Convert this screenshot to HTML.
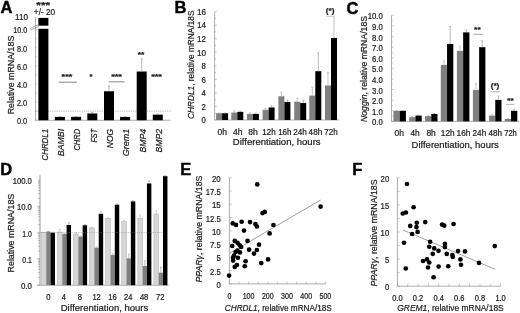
<!DOCTYPE html>
<html lang="en">
<head>
<meta charset="utf-8">
<title>Figure</title>
<style>
html,body{margin:0;padding:0;background:#fff;}
body{width:520px;height:313px;overflow:hidden;}
svg{display:block;font-family:"Liberation Sans",sans-serif;}
svg text{stroke:#222;stroke-width:0.22px;}
</style>
</head>
<body>
<svg width="520" height="313" viewBox="0 0 520 313">
<defs><filter id="soft" x="0" y="0" width="520" height="313" filterUnits="userSpaceOnUse"><feGaussianBlur stdDeviation="0.32"/></filter></defs>
<rect x="0" y="0" width="520" height="313" fill="#ffffff"/>
<g filter="url(#soft)">
<text x="0.60" y="13.45" font-size="16.5" font-weight="bold" fill="#000" style="stroke:#000;stroke-width:0.45px">A</text>
<text x="174.40" y="13.45" font-size="16.5" font-weight="bold" fill="#000" style="stroke:#000;stroke-width:0.45px">B</text>
<text x="346.60" y="13.75" font-size="16.5" font-weight="bold" fill="#000" style="stroke:#000;stroke-width:0.45px">C</text>
<text x="0.20" y="174.65" font-size="16.5" font-weight="bold" fill="#000" style="stroke:#000;stroke-width:0.45px">D</text>
<text x="180.20" y="174.85" font-size="16.5" font-weight="bold" fill="#000" style="stroke:#000;stroke-width:0.45px">E</text>
<text x="352.20" y="174.85" font-size="16.5" font-weight="bold" fill="#000" style="stroke:#000;stroke-width:0.45px">F</text>
<line x1="35.60" y1="17.30" x2="35.60" y2="120.25" stroke="#8c8c8c" stroke-width="0.7" />
<line x1="35.60" y1="120.25" x2="170.60" y2="120.25" stroke="#8c8c8c" stroke-width="0.7" />
<line x1="34.30" y1="120.25" x2="36.90" y2="120.25" stroke="#aaa" stroke-width="0.5" />
<line x1="34.30" y1="111.19" x2="36.90" y2="111.19" stroke="#aaa" stroke-width="0.5" />
<line x1="34.30" y1="102.13" x2="36.90" y2="102.13" stroke="#aaa" stroke-width="0.5" />
<line x1="34.30" y1="93.07" x2="36.90" y2="93.07" stroke="#aaa" stroke-width="0.5" />
<line x1="34.30" y1="84.01" x2="36.90" y2="84.01" stroke="#aaa" stroke-width="0.5" />
<line x1="34.30" y1="74.95" x2="36.90" y2="74.95" stroke="#aaa" stroke-width="0.5" />
<line x1="34.30" y1="65.89" x2="36.90" y2="65.89" stroke="#aaa" stroke-width="0.5" />
<line x1="34.30" y1="56.83" x2="36.90" y2="56.83" stroke="#aaa" stroke-width="0.5" />
<line x1="34.30" y1="47.77" x2="36.90" y2="47.77" stroke="#aaa" stroke-width="0.5" />
<line x1="34.30" y1="38.71" x2="36.90" y2="38.71" stroke="#aaa" stroke-width="0.5" />
<line x1="34.30" y1="29.65" x2="36.90" y2="29.65" stroke="#aaa" stroke-width="0.5" />
<line x1="34.30" y1="17.30" x2="36.90" y2="17.30" stroke="#aaa" stroke-width="0.5" />
<line x1="35.60" y1="111.09" x2="171.30" y2="111.09" stroke="#777" stroke-width="0.6" stroke-dasharray="0.9,0.9"/>
<text x="27.20" y="124.00" font-size="8.2" text-anchor="end" textLength="10.2" lengthAdjust="spacingAndGlyphs" fill="#1a1a1a">0.0</text>
<text x="27.20" y="105.88" font-size="8.2" text-anchor="end" textLength="10.2" lengthAdjust="spacingAndGlyphs" fill="#1a1a1a">2.0</text>
<text x="27.20" y="87.76" font-size="8.2" text-anchor="end" textLength="10.2" lengthAdjust="spacingAndGlyphs" fill="#1a1a1a">4.0</text>
<text x="27.20" y="69.64" font-size="8.2" text-anchor="end" textLength="10.2" lengthAdjust="spacingAndGlyphs" fill="#1a1a1a">6.0</text>
<text x="27.20" y="51.52" font-size="8.2" text-anchor="end" textLength="10.2" lengthAdjust="spacingAndGlyphs" fill="#1a1a1a">8.0</text>
<text x="27.20" y="33.40" font-size="8.2" text-anchor="end" textLength="13.9" lengthAdjust="spacingAndGlyphs" fill="#1a1a1a">10.0</text>
<text x="28.00" y="19.90" font-size="8.2" text-anchor="end" textLength="12.9" lengthAdjust="spacingAndGlyphs" fill="#1a1a1a">110</text>
<rect x="38.40" y="17.90" width="10.00" height="7.80" fill="#000" />
<rect x="38.40" y="28.80" width="10.00" height="91.45" fill="#000" />
<line x1="30.00" y1="28.60" x2="39.20" y2="24.30" stroke="#777" stroke-width="0.6" />
<line x1="30.00" y1="30.30" x2="39.20" y2="26.00" stroke="#777" stroke-width="0.6" />
<rect x="54.90" y="116.90" width="10.00" height="3.35" fill="#000" />
<line x1="59.90" y1="116.90" x2="59.90" y2="116.63" stroke="#8a8a8a" stroke-width="0.6" />
<line x1="58.90" y1="116.63" x2="60.90" y2="116.63" stroke="#8a8a8a" stroke-width="0.6" />
<rect x="71.10" y="116.81" width="10.00" height="3.44" fill="#000" />
<line x1="76.10" y1="116.81" x2="76.10" y2="116.54" stroke="#8a8a8a" stroke-width="0.6" />
<line x1="75.10" y1="116.54" x2="77.10" y2="116.54" stroke="#8a8a8a" stroke-width="0.6" />
<rect x="87.30" y="113.45" width="10.00" height="6.80" fill="#000" />
<line x1="92.30" y1="113.45" x2="92.30" y2="112.37" stroke="#8a8a8a" stroke-width="0.6" />
<line x1="91.30" y1="112.37" x2="93.30" y2="112.37" stroke="#8a8a8a" stroke-width="0.6" />
<rect x="104.00" y="91.26" width="10.00" height="28.99" fill="#000" />
<line x1="109.00" y1="91.26" x2="109.00" y2="85.82" stroke="#8a8a8a" stroke-width="0.6" />
<line x1="108.00" y1="85.82" x2="110.00" y2="85.82" stroke="#8a8a8a" stroke-width="0.6" />
<rect x="120.10" y="116.90" width="10.00" height="3.35" fill="#000" />
<line x1="125.10" y1="116.90" x2="125.10" y2="116.63" stroke="#8a8a8a" stroke-width="0.6" />
<line x1="124.10" y1="116.63" x2="126.10" y2="116.63" stroke="#8a8a8a" stroke-width="0.6" />
<rect x="136.70" y="71.51" width="10.00" height="48.74" fill="#000" />
<line x1="141.70" y1="71.51" x2="141.70" y2="58.82" stroke="#8a8a8a" stroke-width="0.6" />
<line x1="140.70" y1="58.82" x2="142.70" y2="58.82" stroke="#8a8a8a" stroke-width="0.6" />
<rect x="152.80" y="114.63" width="10.00" height="5.62" fill="#000" />
<line x1="157.80" y1="114.63" x2="157.80" y2="113.91" stroke="#8a8a8a" stroke-width="0.6" />
<line x1="156.80" y1="113.91" x2="158.80" y2="113.91" stroke="#8a8a8a" stroke-width="0.6" />
<text transform="translate(47.90,128.90) rotate(-90)" font-size="9.4" text-anchor="end" textLength="31.6" lengthAdjust="spacingAndGlyphs" font-style="italic" fill="#1a1a1a">CHRDL1</text>
<text transform="translate(63.50,128.90) rotate(-90)" font-size="9.4" text-anchor="end" textLength="27.3" lengthAdjust="spacingAndGlyphs" font-style="italic" fill="#1a1a1a">BAMBI</text>
<text transform="translate(79.90,128.90) rotate(-90)" font-size="9.4" text-anchor="end" textLength="21.7" lengthAdjust="spacingAndGlyphs" font-style="italic" fill="#1a1a1a">CHRD</text>
<text transform="translate(96.50,128.90) rotate(-90)" font-size="9.4" text-anchor="end" textLength="13.7" lengthAdjust="spacingAndGlyphs" font-style="italic" fill="#1a1a1a">FST</text>
<text transform="translate(112.70,128.90) rotate(-90)" font-size="9.4" text-anchor="end" textLength="19.3" lengthAdjust="spacingAndGlyphs" font-style="italic" fill="#1a1a1a">NOG</text>
<text transform="translate(129.30,128.90) rotate(-90)" font-size="9.4" text-anchor="end" textLength="27.3" lengthAdjust="spacingAndGlyphs" font-style="italic" fill="#1a1a1a">Grem1</text>
<text transform="translate(145.90,128.90) rotate(-90)" font-size="9.4" text-anchor="end" textLength="23.6" lengthAdjust="spacingAndGlyphs" font-style="italic" fill="#1a1a1a">BMP4</text>
<text transform="translate(162.10,128.90) rotate(-90)" font-size="9.4" text-anchor="end" textLength="23.6" lengthAdjust="spacingAndGlyphs" font-style="italic" fill="#1a1a1a">BMP2</text>
<text transform="translate(13.50,114.30) rotate(-90)" font-size="9.5" textLength="78.6" lengthAdjust="spacingAndGlyphs" fill="#1a1a1a">Relative mRNA/18S</text>
<text x="43.20" y="8.36" font-size="8.6" text-anchor="middle" textLength="13.8" lengthAdjust="spacingAndGlyphs" font-weight="bold" fill="#111">***</text>
<text x="44.50" y="15.00" font-size="8.8" text-anchor="middle" textLength="21.4" lengthAdjust="spacingAndGlyphs" fill="#1a1a1a">+/- 20</text>
<text x="67.00" y="79.22" font-size="7.4" text-anchor="middle" textLength="10.8" lengthAdjust="spacingAndGlyphs" font-weight="bold" fill="#111">***</text>
<line x1="58.70" y1="82.20" x2="77.00" y2="82.20" stroke="#555" stroke-width="0.7" />
<text x="91.00" y="79.22" font-size="7.4" text-anchor="middle" font-weight="bold" fill="#111">*</text>
<text x="116.60" y="79.22" font-size="7.4" text-anchor="middle" textLength="10.8" lengthAdjust="spacingAndGlyphs" font-weight="bold" fill="#111">***</text>
<line x1="108.80" y1="81.80" x2="124.60" y2="81.80" stroke="#555" stroke-width="0.7" />
<text x="141.10" y="56.92" font-size="7.4" text-anchor="middle" textLength="6.6" lengthAdjust="spacingAndGlyphs" font-weight="bold" fill="#111">**</text>
<text x="156.60" y="79.22" font-size="7.4" text-anchor="middle" textLength="10.8" lengthAdjust="spacingAndGlyphs" font-weight="bold" fill="#111">***</text>
<line x1="214.60" y1="12.20" x2="214.60" y2="120.00" stroke="#8c8c8c" stroke-width="0.7" />
<line x1="214.60" y1="120.00" x2="339.20" y2="120.00" stroke="#8c8c8c" stroke-width="0.7" />
<line x1="214.60" y1="120.00" x2="216.80" y2="120.00" stroke="#8c8c8c" stroke-width="0.5" />
<line x1="214.60" y1="113.22" x2="216.00" y2="113.22" stroke="#8c8c8c" stroke-width="0.5" />
<line x1="214.60" y1="106.44" x2="216.80" y2="106.44" stroke="#8c8c8c" stroke-width="0.5" />
<line x1="214.60" y1="99.66" x2="216.00" y2="99.66" stroke="#8c8c8c" stroke-width="0.5" />
<line x1="214.60" y1="92.88" x2="216.80" y2="92.88" stroke="#8c8c8c" stroke-width="0.5" />
<line x1="214.60" y1="86.10" x2="216.00" y2="86.10" stroke="#8c8c8c" stroke-width="0.5" />
<line x1="214.60" y1="79.32" x2="216.80" y2="79.32" stroke="#8c8c8c" stroke-width="0.5" />
<line x1="214.60" y1="72.54" x2="216.00" y2="72.54" stroke="#8c8c8c" stroke-width="0.5" />
<line x1="214.60" y1="65.76" x2="216.80" y2="65.76" stroke="#8c8c8c" stroke-width="0.5" />
<line x1="214.60" y1="58.98" x2="216.00" y2="58.98" stroke="#8c8c8c" stroke-width="0.5" />
<line x1="214.60" y1="52.20" x2="216.80" y2="52.20" stroke="#8c8c8c" stroke-width="0.5" />
<line x1="214.60" y1="45.42" x2="216.00" y2="45.42" stroke="#8c8c8c" stroke-width="0.5" />
<line x1="214.60" y1="38.64" x2="216.80" y2="38.64" stroke="#8c8c8c" stroke-width="0.5" />
<line x1="214.60" y1="31.86" x2="216.00" y2="31.86" stroke="#8c8c8c" stroke-width="0.5" />
<line x1="214.60" y1="25.08" x2="216.80" y2="25.08" stroke="#8c8c8c" stroke-width="0.5" />
<line x1="214.60" y1="18.30" x2="216.00" y2="18.30" stroke="#8c8c8c" stroke-width="0.5" />
<line x1="214.60" y1="11.52" x2="216.80" y2="11.52" stroke="#8c8c8c" stroke-width="0.5" />
<text x="205.90" y="123.30" font-size="8.3" text-anchor="end" textLength="4.3" lengthAdjust="spacingAndGlyphs" fill="#1a1a1a">0</text>
<text x="205.90" y="109.74" font-size="8.3" text-anchor="end" textLength="4.3" lengthAdjust="spacingAndGlyphs" fill="#1a1a1a">2</text>
<text x="205.90" y="96.18" font-size="8.3" text-anchor="end" textLength="4.3" lengthAdjust="spacingAndGlyphs" fill="#1a1a1a">4</text>
<text x="205.90" y="82.62" font-size="8.3" text-anchor="end" textLength="4.3" lengthAdjust="spacingAndGlyphs" fill="#1a1a1a">6</text>
<text x="205.90" y="69.06" font-size="8.3" text-anchor="end" textLength="4.3" lengthAdjust="spacingAndGlyphs" fill="#1a1a1a">8</text>
<text x="205.90" y="55.50" font-size="8.3" text-anchor="end" textLength="9.0" lengthAdjust="spacingAndGlyphs" fill="#1a1a1a">10</text>
<text x="205.90" y="41.94" font-size="8.3" text-anchor="end" textLength="9.0" lengthAdjust="spacingAndGlyphs" fill="#1a1a1a">12</text>
<text x="205.90" y="28.38" font-size="8.3" text-anchor="end" textLength="9.0" lengthAdjust="spacingAndGlyphs" fill="#1a1a1a">14</text>
<text x="205.90" y="14.82" font-size="8.3" text-anchor="end" textLength="9.0" lengthAdjust="spacingAndGlyphs" fill="#1a1a1a">16</text>
<rect x="216.10" y="113.22" width="6.00" height="6.78" fill="#7f7f7f" />
<line x1="219.10" y1="113.22" x2="219.10" y2="113.02" stroke="#a0a0a0" stroke-width="0.6" />
<line x1="218.20" y1="113.02" x2="220.00" y2="113.02" stroke="#a0a0a0" stroke-width="0.6" />
<rect x="222.10" y="113.22" width="6.00" height="6.78" fill="#000" />
<line x1="225.10" y1="113.22" x2="225.10" y2="113.02" stroke="#8a8a8a" stroke-width="0.6" />
<line x1="224.20" y1="113.02" x2="226.00" y2="113.02" stroke="#8a8a8a" stroke-width="0.6" />
<rect x="231.30" y="112.54" width="6.00" height="7.46" fill="#7f7f7f" />
<line x1="234.30" y1="112.54" x2="234.30" y2="110.85" stroke="#a0a0a0" stroke-width="0.6" />
<line x1="233.40" y1="110.85" x2="235.20" y2="110.85" stroke="#a0a0a0" stroke-width="0.6" />
<rect x="237.30" y="111.86" width="6.00" height="8.14" fill="#000" />
<line x1="240.30" y1="111.86" x2="240.30" y2="111.05" stroke="#8a8a8a" stroke-width="0.6" />
<line x1="239.40" y1="111.05" x2="241.20" y2="111.05" stroke="#8a8a8a" stroke-width="0.6" />
<rect x="246.90" y="113.90" width="6.00" height="6.10" fill="#7f7f7f" />
<line x1="249.90" y1="113.90" x2="249.90" y2="112.88" stroke="#a0a0a0" stroke-width="0.6" />
<line x1="249.00" y1="112.88" x2="250.80" y2="112.88" stroke="#a0a0a0" stroke-width="0.6" />
<rect x="252.90" y="113.90" width="6.00" height="6.10" fill="#000" />
<line x1="255.90" y1="113.90" x2="255.90" y2="113.22" stroke="#8a8a8a" stroke-width="0.6" />
<line x1="255.00" y1="113.22" x2="256.80" y2="113.22" stroke="#8a8a8a" stroke-width="0.6" />
<rect x="262.60" y="109.83" width="6.00" height="10.17" fill="#7f7f7f" />
<line x1="265.60" y1="109.83" x2="265.60" y2="108.47" stroke="#a0a0a0" stroke-width="0.6" />
<line x1="264.70" y1="108.47" x2="266.50" y2="108.47" stroke="#a0a0a0" stroke-width="0.6" />
<rect x="268.60" y="107.46" width="6.00" height="12.54" fill="#000" />
<line x1="271.60" y1="107.46" x2="271.60" y2="106.10" stroke="#8a8a8a" stroke-width="0.6" />
<line x1="270.70" y1="106.10" x2="272.50" y2="106.10" stroke="#8a8a8a" stroke-width="0.6" />
<rect x="278.40" y="96.27" width="6.00" height="23.73" fill="#7f7f7f" />
<line x1="281.40" y1="96.27" x2="281.40" y2="92.20" stroke="#a0a0a0" stroke-width="0.6" />
<line x1="280.50" y1="92.20" x2="282.30" y2="92.20" stroke="#a0a0a0" stroke-width="0.6" />
<rect x="284.40" y="102.03" width="6.00" height="17.97" fill="#000" />
<line x1="287.40" y1="102.03" x2="287.40" y2="100.00" stroke="#8a8a8a" stroke-width="0.6" />
<line x1="286.50" y1="100.00" x2="288.30" y2="100.00" stroke="#8a8a8a" stroke-width="0.6" />
<rect x="294.20" y="101.69" width="6.00" height="18.31" fill="#7f7f7f" />
<line x1="297.20" y1="101.69" x2="297.20" y2="98.30" stroke="#a0a0a0" stroke-width="0.6" />
<line x1="296.30" y1="98.30" x2="298.10" y2="98.30" stroke="#a0a0a0" stroke-width="0.6" />
<rect x="300.20" y="103.05" width="6.00" height="16.95" fill="#000" />
<line x1="303.20" y1="103.05" x2="303.20" y2="100.68" stroke="#8a8a8a" stroke-width="0.6" />
<line x1="302.30" y1="100.68" x2="304.10" y2="100.68" stroke="#8a8a8a" stroke-width="0.6" />
<rect x="309.30" y="95.59" width="6.00" height="24.41" fill="#7f7f7f" />
<line x1="312.30" y1="95.59" x2="312.30" y2="87.12" stroke="#a0a0a0" stroke-width="0.6" />
<line x1="311.40" y1="87.12" x2="313.20" y2="87.12" stroke="#a0a0a0" stroke-width="0.6" />
<rect x="315.30" y="71.18" width="6.00" height="48.82" fill="#000" />
<line x1="318.30" y1="71.18" x2="318.30" y2="52.88" stroke="#8a8a8a" stroke-width="0.6" />
<line x1="317.40" y1="52.88" x2="319.20" y2="52.88" stroke="#8a8a8a" stroke-width="0.6" />
<rect x="325.00" y="85.42" width="6.00" height="34.58" fill="#7f7f7f" />
<line x1="328.00" y1="85.42" x2="328.00" y2="72.54" stroke="#a0a0a0" stroke-width="0.6" />
<line x1="327.10" y1="72.54" x2="328.90" y2="72.54" stroke="#a0a0a0" stroke-width="0.6" />
<rect x="331.00" y="37.96" width="6.00" height="82.04" fill="#000" />
<line x1="334.00" y1="38.00" x2="334.00" y2="16.20" stroke="#999" stroke-width="0.6" />
<line x1="326.30" y1="16.20" x2="334.60" y2="16.20" stroke="#999" stroke-width="0.6" />
<text x="330.10" y="13.30" font-size="7.3" text-anchor="middle" textLength="8.6" lengthAdjust="spacingAndGlyphs" font-weight="bold" fill="#1a1a1a">(*)</text>
<text x="222.15" y="135.20" font-size="8.3" text-anchor="middle" textLength="9.5" lengthAdjust="spacingAndGlyphs" fill="#1a1a1a">0h</text>
<text x="237.65" y="135.20" font-size="8.3" text-anchor="middle" textLength="9.5" lengthAdjust="spacingAndGlyphs" fill="#1a1a1a">4h</text>
<text x="253.05" y="135.20" font-size="8.3" text-anchor="middle" textLength="9.5" lengthAdjust="spacingAndGlyphs" fill="#1a1a1a">8h</text>
<text x="268.95" y="135.20" font-size="8.3" text-anchor="middle" textLength="13.5" lengthAdjust="spacingAndGlyphs" fill="#1a1a1a">12h</text>
<text x="284.85" y="135.20" font-size="8.3" text-anchor="middle" textLength="13.3" lengthAdjust="spacingAndGlyphs" fill="#1a1a1a">16h</text>
<text x="300.10" y="135.20" font-size="8.3" text-anchor="middle" textLength="13.6" lengthAdjust="spacingAndGlyphs" fill="#1a1a1a">24h</text>
<text x="315.40" y="135.20" font-size="8.3" text-anchor="middle" textLength="13.6" lengthAdjust="spacingAndGlyphs" fill="#1a1a1a">48h</text>
<text x="331.00" y="135.20" font-size="8.3" text-anchor="middle" textLength="13.4" lengthAdjust="spacingAndGlyphs" fill="#1a1a1a">72h</text>
<text x="232.80" y="144.50" font-size="9.5" textLength="87.8" lengthAdjust="spacingAndGlyphs" fill="#1a1a1a">Differentiation, hours</text>
<text transform="translate(194.3,119.0) rotate(-90)" font-size="9.5" textLength="108.5" lengthAdjust="spacingAndGlyphs" fill="#1a1a1a"><tspan font-style="italic">CHRDL1</tspan>, relative mRNA/18S</text>
<line x1="391.50" y1="15.40" x2="391.50" y2="121.40" stroke="#8c8c8c" stroke-width="0.7" />
<line x1="391.50" y1="121.40" x2="519.00" y2="121.40" stroke="#8c8c8c" stroke-width="0.7" />
<line x1="391.50" y1="121.40" x2="393.70" y2="121.40" stroke="#8c8c8c" stroke-width="0.5" />
<line x1="391.50" y1="116.10" x2="392.90" y2="116.10" stroke="#8c8c8c" stroke-width="0.5" />
<line x1="391.50" y1="110.80" x2="393.70" y2="110.80" stroke="#8c8c8c" stroke-width="0.5" />
<line x1="391.50" y1="105.50" x2="392.90" y2="105.50" stroke="#8c8c8c" stroke-width="0.5" />
<line x1="391.50" y1="100.20" x2="393.70" y2="100.20" stroke="#8c8c8c" stroke-width="0.5" />
<line x1="391.50" y1="94.90" x2="392.90" y2="94.90" stroke="#8c8c8c" stroke-width="0.5" />
<line x1="391.50" y1="89.60" x2="393.70" y2="89.60" stroke="#8c8c8c" stroke-width="0.5" />
<line x1="391.50" y1="84.30" x2="392.90" y2="84.30" stroke="#8c8c8c" stroke-width="0.5" />
<line x1="391.50" y1="79.00" x2="393.70" y2="79.00" stroke="#8c8c8c" stroke-width="0.5" />
<line x1="391.50" y1="73.70" x2="392.90" y2="73.70" stroke="#8c8c8c" stroke-width="0.5" />
<line x1="391.50" y1="68.40" x2="393.70" y2="68.40" stroke="#8c8c8c" stroke-width="0.5" />
<line x1="391.50" y1="63.10" x2="392.90" y2="63.10" stroke="#8c8c8c" stroke-width="0.5" />
<line x1="391.50" y1="57.80" x2="393.70" y2="57.80" stroke="#8c8c8c" stroke-width="0.5" />
<line x1="391.50" y1="52.50" x2="392.90" y2="52.50" stroke="#8c8c8c" stroke-width="0.5" />
<line x1="391.50" y1="47.20" x2="393.70" y2="47.20" stroke="#8c8c8c" stroke-width="0.5" />
<line x1="391.50" y1="41.90" x2="392.90" y2="41.90" stroke="#8c8c8c" stroke-width="0.5" />
<line x1="391.50" y1="36.60" x2="393.70" y2="36.60" stroke="#8c8c8c" stroke-width="0.5" />
<line x1="391.50" y1="31.30" x2="392.90" y2="31.30" stroke="#8c8c8c" stroke-width="0.5" />
<line x1="391.50" y1="26.00" x2="393.70" y2="26.00" stroke="#8c8c8c" stroke-width="0.5" />
<line x1="391.50" y1="20.70" x2="392.90" y2="20.70" stroke="#8c8c8c" stroke-width="0.5" />
<line x1="391.50" y1="15.40" x2="393.70" y2="15.40" stroke="#8c8c8c" stroke-width="0.5" />
<text x="382.80" y="125.40" font-size="8.3" text-anchor="end" textLength="10.8" lengthAdjust="spacingAndGlyphs" fill="#1a1a1a">0.0</text>
<text x="382.80" y="114.80" font-size="8.3" text-anchor="end" textLength="10.8" lengthAdjust="spacingAndGlyphs" fill="#1a1a1a">1.0</text>
<text x="382.80" y="104.20" font-size="8.3" text-anchor="end" textLength="10.8" lengthAdjust="spacingAndGlyphs" fill="#1a1a1a">2.0</text>
<text x="382.80" y="93.60" font-size="8.3" text-anchor="end" textLength="10.8" lengthAdjust="spacingAndGlyphs" fill="#1a1a1a">3.0</text>
<text x="382.80" y="83.00" font-size="8.3" text-anchor="end" textLength="10.8" lengthAdjust="spacingAndGlyphs" fill="#1a1a1a">4.0</text>
<text x="382.80" y="72.40" font-size="8.3" text-anchor="end" textLength="10.8" lengthAdjust="spacingAndGlyphs" fill="#1a1a1a">5.0</text>
<text x="382.80" y="61.80" font-size="8.3" text-anchor="end" textLength="10.8" lengthAdjust="spacingAndGlyphs" fill="#1a1a1a">6.0</text>
<text x="382.80" y="51.20" font-size="8.3" text-anchor="end" textLength="10.8" lengthAdjust="spacingAndGlyphs" fill="#1a1a1a">7.0</text>
<text x="382.80" y="40.60" font-size="8.3" text-anchor="end" textLength="10.8" lengthAdjust="spacingAndGlyphs" fill="#1a1a1a">8.0</text>
<text x="382.80" y="30.00" font-size="8.3" text-anchor="end" textLength="10.8" lengthAdjust="spacingAndGlyphs" fill="#1a1a1a">9.0</text>
<text x="382.80" y="19.40" font-size="8.3" text-anchor="end" textLength="15.0" lengthAdjust="spacingAndGlyphs" fill="#1a1a1a">10.0</text>
<rect x="393.40" y="110.80" width="6.25" height="10.60" fill="#7f7f7f" />
<line x1="396.52" y1="110.80" x2="396.52" y2="110.48" stroke="#a0a0a0" stroke-width="0.6" />
<line x1="395.62" y1="110.48" x2="397.42" y2="110.48" stroke="#a0a0a0" stroke-width="0.6" />
<rect x="399.65" y="110.80" width="6.25" height="10.60" fill="#000" />
<line x1="402.77" y1="110.80" x2="402.77" y2="110.48" stroke="#8a8a8a" stroke-width="0.6" />
<line x1="401.88" y1="110.48" x2="403.67" y2="110.48" stroke="#8a8a8a" stroke-width="0.6" />
<rect x="409.20" y="117.16" width="6.25" height="4.24" fill="#7f7f7f" />
<line x1="412.32" y1="117.16" x2="412.32" y2="116.63" stroke="#a0a0a0" stroke-width="0.6" />
<line x1="411.43" y1="116.63" x2="413.22" y2="116.63" stroke="#a0a0a0" stroke-width="0.6" />
<rect x="415.45" y="115.57" width="6.25" height="5.83" fill="#000" />
<line x1="418.57" y1="115.57" x2="418.57" y2="115.04" stroke="#8a8a8a" stroke-width="0.6" />
<line x1="417.68" y1="115.04" x2="419.47" y2="115.04" stroke="#8a8a8a" stroke-width="0.6" />
<rect x="425.00" y="116.10" width="6.25" height="5.30" fill="#7f7f7f" />
<line x1="428.12" y1="116.10" x2="428.12" y2="115.57" stroke="#a0a0a0" stroke-width="0.6" />
<line x1="427.23" y1="115.57" x2="429.02" y2="115.57" stroke="#a0a0a0" stroke-width="0.6" />
<rect x="431.25" y="113.98" width="6.25" height="7.42" fill="#000" />
<line x1="434.38" y1="113.98" x2="434.38" y2="113.45" stroke="#8a8a8a" stroke-width="0.6" />
<line x1="433.48" y1="113.45" x2="435.27" y2="113.45" stroke="#8a8a8a" stroke-width="0.6" />
<rect x="440.80" y="64.90" width="6.25" height="56.50" fill="#7f7f7f" />
<line x1="443.93" y1="64.90" x2="443.93" y2="60.87" stroke="#a0a0a0" stroke-width="0.6" />
<line x1="443.03" y1="60.87" x2="444.82" y2="60.87" stroke="#a0a0a0" stroke-width="0.6" />
<rect x="447.05" y="44.02" width="6.25" height="77.38" fill="#000" />
<line x1="450.18" y1="44.02" x2="450.18" y2="26.53" stroke="#8a8a8a" stroke-width="0.6" />
<line x1="449.28" y1="26.53" x2="451.07" y2="26.53" stroke="#8a8a8a" stroke-width="0.6" />
<rect x="456.90" y="50.91" width="6.25" height="70.49" fill="#7f7f7f" />
<line x1="460.02" y1="50.91" x2="460.02" y2="46.14" stroke="#a0a0a0" stroke-width="0.6" />
<line x1="459.12" y1="46.14" x2="460.92" y2="46.14" stroke="#a0a0a0" stroke-width="0.6" />
<rect x="463.15" y="32.36" width="6.25" height="89.04" fill="#000" />
<line x1="466.27" y1="32.36" x2="466.27" y2="30.03" stroke="#8a8a8a" stroke-width="0.6" />
<line x1="465.38" y1="30.03" x2="467.17" y2="30.03" stroke="#8a8a8a" stroke-width="0.6" />
<rect x="472.90" y="89.92" width="6.25" height="31.48" fill="#7f7f7f" />
<line x1="476.02" y1="89.92" x2="476.02" y2="83.56" stroke="#a0a0a0" stroke-width="0.6" />
<line x1="475.12" y1="83.56" x2="476.92" y2="83.56" stroke="#a0a0a0" stroke-width="0.6" />
<rect x="479.15" y="47.20" width="6.25" height="74.20" fill="#000" />
<line x1="482.27" y1="47.20" x2="482.27" y2="40.84" stroke="#8a8a8a" stroke-width="0.6" />
<line x1="481.38" y1="40.84" x2="483.17" y2="40.84" stroke="#8a8a8a" stroke-width="0.6" />
<rect x="489.00" y="115.57" width="6.25" height="5.83" fill="#7f7f7f" />
<line x1="492.12" y1="115.57" x2="492.12" y2="114.72" stroke="#a0a0a0" stroke-width="0.6" />
<line x1="491.23" y1="114.72" x2="493.02" y2="114.72" stroke="#a0a0a0" stroke-width="0.6" />
<rect x="495.25" y="99.88" width="6.25" height="21.52" fill="#000" />
<line x1="498.38" y1="99.88" x2="498.38" y2="96.07" stroke="#8a8a8a" stroke-width="0.6" />
<line x1="497.48" y1="96.07" x2="499.27" y2="96.07" stroke="#8a8a8a" stroke-width="0.6" />
<rect x="504.80" y="118.96" width="6.25" height="2.44" fill="#7f7f7f" />
<line x1="507.93" y1="118.96" x2="507.93" y2="118.43" stroke="#a0a0a0" stroke-width="0.6" />
<line x1="507.03" y1="118.43" x2="508.82" y2="118.43" stroke="#a0a0a0" stroke-width="0.6" />
<rect x="511.05" y="110.80" width="6.25" height="10.60" fill="#000" />
<line x1="514.17" y1="110.80" x2="514.17" y2="109.21" stroke="#8a8a8a" stroke-width="0.6" />
<line x1="513.27" y1="109.21" x2="515.07" y2="109.21" stroke="#8a8a8a" stroke-width="0.6" />
<text x="477.40" y="31.92" font-size="7.4" text-anchor="middle" textLength="6.6" lengthAdjust="spacingAndGlyphs" font-weight="bold" fill="#111">**</text>
<line x1="473.50" y1="34.30" x2="483.00" y2="34.30" stroke="#666" stroke-width="0.6" />
<text x="495.00" y="87.50" font-size="7.3" text-anchor="middle" textLength="8.6" lengthAdjust="spacingAndGlyphs" font-weight="bold" fill="#1a1a1a">(*)</text>
<line x1="490.60" y1="91.80" x2="499.80" y2="91.80" stroke="#777" stroke-width="0.6" />
<text x="510.40" y="103.22" font-size="7.4" text-anchor="middle" textLength="6.4" lengthAdjust="spacingAndGlyphs" font-weight="bold" fill="#111">**</text>
<line x1="506.30" y1="104.30" x2="514.50" y2="104.30" stroke="#777" stroke-width="0.6" />
<text x="399.15" y="136.40" font-size="8.3" text-anchor="middle" textLength="9.5" lengthAdjust="spacingAndGlyphs" fill="#1a1a1a">0h</text>
<text x="415.00" y="136.40" font-size="8.3" text-anchor="middle" textLength="9.2" lengthAdjust="spacingAndGlyphs" fill="#1a1a1a">4h</text>
<text x="431.05" y="136.40" font-size="8.3" text-anchor="middle" textLength="9.3" lengthAdjust="spacingAndGlyphs" fill="#1a1a1a">8h</text>
<text x="447.70" y="136.40" font-size="8.3" text-anchor="middle" textLength="13.8" lengthAdjust="spacingAndGlyphs" fill="#1a1a1a">12h</text>
<text x="463.45" y="136.40" font-size="8.3" text-anchor="middle" textLength="13.9" lengthAdjust="spacingAndGlyphs" fill="#1a1a1a">16h</text>
<text x="479.35" y="136.40" font-size="8.3" text-anchor="middle" textLength="13.7" lengthAdjust="spacingAndGlyphs" fill="#1a1a1a">24h</text>
<text x="495.25" y="136.40" font-size="8.3" text-anchor="middle" textLength="13.7" lengthAdjust="spacingAndGlyphs" fill="#1a1a1a">48h</text>
<text x="510.50" y="136.40" font-size="8.3" text-anchor="middle" textLength="12.6" lengthAdjust="spacingAndGlyphs" fill="#1a1a1a">72h</text>
<text x="411.60" y="148.10" font-size="9.5" textLength="87.2" lengthAdjust="spacingAndGlyphs" fill="#1a1a1a">Differentiation, hours</text>
<text transform="translate(366.6,122.0) rotate(-90)" font-size="9.5" textLength="106.0" lengthAdjust="spacingAndGlyphs" fill="#1a1a1a"><tspan font-style="italic">Noggin</tspan>, relative mRNA/18S</text>
<line x1="40.00" y1="175.20" x2="40.00" y2="285.20" stroke="#8c8c8c" stroke-width="0.9" />
<line x1="37.50" y1="285.20" x2="168.50" y2="285.20" stroke="#8c8c8c" stroke-width="0.7" />
<line x1="37.20" y1="285.20" x2="40.00" y2="285.20" stroke="#8c8c8c" stroke-width="0.6" />
<line x1="38.00" y1="277.28" x2="40.00" y2="277.28" stroke="#8c8c8c" stroke-width="0.6" />
<line x1="38.00" y1="272.65" x2="40.00" y2="272.65" stroke="#8c8c8c" stroke-width="0.6" />
<line x1="38.00" y1="269.37" x2="40.00" y2="269.37" stroke="#8c8c8c" stroke-width="0.6" />
<line x1="38.00" y1="266.82" x2="40.00" y2="266.82" stroke="#8c8c8c" stroke-width="0.6" />
<line x1="38.00" y1="264.73" x2="40.00" y2="264.73" stroke="#8c8c8c" stroke-width="0.6" />
<line x1="38.00" y1="262.97" x2="40.00" y2="262.97" stroke="#8c8c8c" stroke-width="0.6" />
<line x1="38.00" y1="261.45" x2="40.00" y2="261.45" stroke="#8c8c8c" stroke-width="0.6" />
<line x1="38.00" y1="260.10" x2="40.00" y2="260.10" stroke="#8c8c8c" stroke-width="0.6" />
<line x1="37.20" y1="258.90" x2="40.00" y2="258.90" stroke="#8c8c8c" stroke-width="0.6" />
<line x1="38.00" y1="250.98" x2="40.00" y2="250.98" stroke="#8c8c8c" stroke-width="0.6" />
<line x1="38.00" y1="246.35" x2="40.00" y2="246.35" stroke="#8c8c8c" stroke-width="0.6" />
<line x1="38.00" y1="243.07" x2="40.00" y2="243.07" stroke="#8c8c8c" stroke-width="0.6" />
<line x1="38.00" y1="240.52" x2="40.00" y2="240.52" stroke="#8c8c8c" stroke-width="0.6" />
<line x1="38.00" y1="238.43" x2="40.00" y2="238.43" stroke="#8c8c8c" stroke-width="0.6" />
<line x1="38.00" y1="236.67" x2="40.00" y2="236.67" stroke="#8c8c8c" stroke-width="0.6" />
<line x1="38.00" y1="235.15" x2="40.00" y2="235.15" stroke="#8c8c8c" stroke-width="0.6" />
<line x1="38.00" y1="233.80" x2="40.00" y2="233.80" stroke="#8c8c8c" stroke-width="0.6" />
<line x1="37.20" y1="232.60" x2="40.00" y2="232.60" stroke="#8c8c8c" stroke-width="0.6" />
<line x1="38.00" y1="224.68" x2="40.00" y2="224.68" stroke="#8c8c8c" stroke-width="0.6" />
<line x1="38.00" y1="220.05" x2="40.00" y2="220.05" stroke="#8c8c8c" stroke-width="0.6" />
<line x1="38.00" y1="216.77" x2="40.00" y2="216.77" stroke="#8c8c8c" stroke-width="0.6" />
<line x1="38.00" y1="214.22" x2="40.00" y2="214.22" stroke="#8c8c8c" stroke-width="0.6" />
<line x1="38.00" y1="212.13" x2="40.00" y2="212.13" stroke="#8c8c8c" stroke-width="0.6" />
<line x1="38.00" y1="210.37" x2="40.00" y2="210.37" stroke="#8c8c8c" stroke-width="0.6" />
<line x1="38.00" y1="208.85" x2="40.00" y2="208.85" stroke="#8c8c8c" stroke-width="0.6" />
<line x1="38.00" y1="207.50" x2="40.00" y2="207.50" stroke="#8c8c8c" stroke-width="0.6" />
<line x1="37.20" y1="206.30" x2="40.00" y2="206.30" stroke="#8c8c8c" stroke-width="0.6" />
<line x1="38.00" y1="198.38" x2="40.00" y2="198.38" stroke="#8c8c8c" stroke-width="0.6" />
<line x1="38.00" y1="193.75" x2="40.00" y2="193.75" stroke="#8c8c8c" stroke-width="0.6" />
<line x1="38.00" y1="190.47" x2="40.00" y2="190.47" stroke="#8c8c8c" stroke-width="0.6" />
<line x1="38.00" y1="187.92" x2="40.00" y2="187.92" stroke="#8c8c8c" stroke-width="0.6" />
<line x1="38.00" y1="185.83" x2="40.00" y2="185.83" stroke="#8c8c8c" stroke-width="0.6" />
<line x1="38.00" y1="184.07" x2="40.00" y2="184.07" stroke="#8c8c8c" stroke-width="0.6" />
<line x1="38.00" y1="182.55" x2="40.00" y2="182.55" stroke="#8c8c8c" stroke-width="0.6" />
<line x1="38.00" y1="181.20" x2="40.00" y2="181.20" stroke="#8c8c8c" stroke-width="0.6" />
<line x1="37.40" y1="180.00" x2="40.00" y2="180.00" stroke="#8c8c8c" stroke-width="0.45" />
<text x="31.90" y="184.00" font-size="8.3" text-anchor="end" textLength="19.2" lengthAdjust="spacingAndGlyphs" fill="#1a1a1a">100.0</text>
<text x="31.90" y="210.30" font-size="8.3" text-anchor="end" textLength="15.0" lengthAdjust="spacingAndGlyphs" fill="#1a1a1a">10.0</text>
<text x="31.90" y="236.60" font-size="8.3" text-anchor="end" textLength="9.6" lengthAdjust="spacingAndGlyphs" fill="#1a1a1a">1.0</text>
<text x="31.90" y="262.90" font-size="8.3" text-anchor="end" textLength="9.6" lengthAdjust="spacingAndGlyphs" fill="#1a1a1a">0.1</text>
<text x="31.90" y="289.20" font-size="8.3" text-anchor="end" textLength="11.0" lengthAdjust="spacingAndGlyphs" fill="#1a1a1a">0.0</text>
<rect x="41.45" y="232.60" width="4.60" height="52.60" fill="#d6d6d6" stroke="#aaaaaa" stroke-width="0.5"/>
<line x1="43.75" y1="232.60" x2="43.75" y2="232.26" stroke="#aaaaaa" stroke-width="0.55" />
<line x1="42.85" y1="232.26" x2="44.65" y2="232.26" stroke="#aaaaaa" stroke-width="0.55" />
<rect x="46.30" y="231.51" width="4.20" height="53.69" fill="#7f7f7f" />
<line x1="48.40" y1="231.51" x2="48.40" y2="231.20" stroke="#909090" stroke-width="0.55" />
<line x1="47.50" y1="231.20" x2="49.30" y2="231.20" stroke="#909090" stroke-width="0.55" />
<rect x="50.50" y="232.60" width="4.45" height="52.60" fill="#000" />
<line x1="52.73" y1="232.60" x2="52.73" y2="232.26" stroke="#909090" stroke-width="0.55" />
<line x1="51.83" y1="232.26" x2="53.63" y2="232.26" stroke="#909090" stroke-width="0.55" />
<rect x="57.52" y="232.04" width="4.60" height="53.16" fill="#d6d6d6" stroke="#aaaaaa" stroke-width="0.5"/>
<line x1="59.82" y1="232.04" x2="59.82" y2="229.17" stroke="#aaaaaa" stroke-width="0.55" />
<line x1="58.92" y1="229.17" x2="60.72" y2="229.17" stroke="#aaaaaa" stroke-width="0.55" />
<rect x="62.37" y="234.06" width="4.20" height="51.14" fill="#7f7f7f" />
<line x1="64.47" y1="234.06" x2="64.47" y2="233.43" stroke="#909090" stroke-width="0.55" />
<line x1="63.57" y1="233.43" x2="65.37" y2="233.43" stroke="#909090" stroke-width="0.55" />
<rect x="66.57" y="224.97" width="4.45" height="60.23" fill="#000" />
<line x1="68.80" y1="224.97" x2="68.80" y2="222.60" stroke="#909090" stroke-width="0.55" />
<line x1="67.89" y1="222.60" x2="69.70" y2="222.60" stroke="#909090" stroke-width="0.55" />
<rect x="73.59" y="234.06" width="4.60" height="51.14" fill="#d6d6d6" stroke="#aaaaaa" stroke-width="0.5"/>
<line x1="75.89" y1="234.06" x2="75.89" y2="232.83" stroke="#aaaaaa" stroke-width="0.55" />
<line x1="74.99" y1="232.83" x2="76.79" y2="232.83" stroke="#aaaaaa" stroke-width="0.55" />
<rect x="78.44" y="236.67" width="4.20" height="48.53" fill="#7f7f7f" />
<line x1="80.54" y1="236.67" x2="80.54" y2="236.04" stroke="#909090" stroke-width="0.55" />
<line x1="79.64" y1="236.04" x2="81.44" y2="236.04" stroke="#909090" stroke-width="0.55" />
<rect x="82.64" y="225.27" width="4.45" height="59.93" fill="#000" />
<line x1="84.86" y1="225.27" x2="84.86" y2="224.40" stroke="#909090" stroke-width="0.55" />
<line x1="83.96" y1="224.40" x2="85.77" y2="224.40" stroke="#909090" stroke-width="0.55" />
<rect x="89.66" y="227.97" width="4.60" height="57.23" fill="#d6d6d6" stroke="#aaaaaa" stroke-width="0.5"/>
<line x1="91.96" y1="227.97" x2="91.96" y2="227.09" stroke="#aaaaaa" stroke-width="0.55" />
<line x1="91.06" y1="227.09" x2="92.86" y2="227.09" stroke="#aaaaaa" stroke-width="0.55" />
<rect x="94.51" y="247.77" width="4.20" height="37.43" fill="#7f7f7f" />
<line x1="96.61" y1="247.77" x2="96.61" y2="246.94" stroke="#909090" stroke-width="0.55" />
<line x1="95.71" y1="246.94" x2="97.51" y2="246.94" stroke="#909090" stroke-width="0.55" />
<rect x="98.71" y="213.77" width="4.45" height="71.43" fill="#000" />
<line x1="100.93" y1="213.77" x2="100.93" y2="211.40" stroke="#909090" stroke-width="0.55" />
<line x1="100.03" y1="211.40" x2="101.83" y2="211.40" stroke="#909090" stroke-width="0.55" />
<rect x="105.73" y="218.62" width="4.60" height="66.58" fill="#d6d6d6" stroke="#aaaaaa" stroke-width="0.5"/>
<line x1="108.03" y1="218.62" x2="108.03" y2="217.66" stroke="#aaaaaa" stroke-width="0.55" />
<line x1="107.13" y1="217.66" x2="108.93" y2="217.66" stroke="#aaaaaa" stroke-width="0.55" />
<rect x="110.58" y="255.06" width="4.20" height="30.14" fill="#7f7f7f" />
<line x1="112.68" y1="255.06" x2="112.68" y2="253.89" stroke="#909090" stroke-width="0.55" />
<line x1="111.78" y1="253.89" x2="113.58" y2="253.89" stroke="#909090" stroke-width="0.55" />
<rect x="114.78" y="204.70" width="4.45" height="80.50" fill="#000" />
<line x1="117.00" y1="204.70" x2="117.00" y2="203.94" stroke="#909090" stroke-width="0.55" />
<line x1="116.10" y1="203.94" x2="117.91" y2="203.94" stroke="#909090" stroke-width="0.55" />
<rect x="121.80" y="221.69" width="4.60" height="63.51" fill="#d6d6d6" stroke="#aaaaaa" stroke-width="0.5"/>
<line x1="124.10" y1="221.69" x2="124.10" y2="220.44" stroke="#aaaaaa" stroke-width="0.55" />
<line x1="123.20" y1="220.44" x2="125.00" y2="220.44" stroke="#aaaaaa" stroke-width="0.55" />
<rect x="126.65" y="258.34" width="4.20" height="26.86" fill="#7f7f7f" />
<line x1="128.75" y1="258.34" x2="128.75" y2="254.27" stroke="#909090" stroke-width="0.55" />
<line x1="127.85" y1="254.27" x2="129.65" y2="254.27" stroke="#909090" stroke-width="0.55" />
<rect x="130.85" y="201.37" width="4.45" height="83.83" fill="#000" />
<line x1="133.07" y1="201.37" x2="133.07" y2="200.65" stroke="#909090" stroke-width="0.55" />
<line x1="132.17" y1="200.65" x2="133.97" y2="200.65" stroke="#909090" stroke-width="0.55" />
<rect x="137.87" y="218.29" width="4.60" height="66.91" fill="#d6d6d6" stroke="#aaaaaa" stroke-width="0.5"/>
<line x1="140.17" y1="218.29" x2="140.17" y2="214.92" stroke="#aaaaaa" stroke-width="0.55" />
<line x1="139.27" y1="214.92" x2="141.07" y2="214.92" stroke="#aaaaaa" stroke-width="0.55" />
<rect x="142.72" y="265.94" width="4.20" height="19.26" fill="#7f7f7f" />
<line x1="144.82" y1="265.94" x2="144.82" y2="260.89" stroke="#909090" stroke-width="0.55" />
<line x1="143.92" y1="260.89" x2="145.72" y2="260.89" stroke="#909090" stroke-width="0.55" />
<rect x="146.92" y="183.44" width="4.45" height="101.76" fill="#000" />
<line x1="149.14" y1="183.44" x2="149.14" y2="180.95" stroke="#909090" stroke-width="0.55" />
<line x1="148.24" y1="180.95" x2="150.04" y2="180.95" stroke="#909090" stroke-width="0.55" />
<rect x="153.94" y="213.99" width="4.60" height="71.21" fill="#d6d6d6" stroke="#aaaaaa" stroke-width="0.5"/>
<line x1="156.24" y1="213.99" x2="156.24" y2="210.54" stroke="#aaaaaa" stroke-width="0.55" />
<line x1="155.34" y1="210.54" x2="157.14" y2="210.54" stroke="#aaaaaa" stroke-width="0.55" />
<rect x="158.79" y="272.65" width="4.20" height="12.55" fill="#7f7f7f" />
<line x1="160.89" y1="272.65" x2="160.89" y2="267.28" stroke="#909090" stroke-width="0.55" />
<line x1="159.99" y1="267.28" x2="161.79" y2="267.28" stroke="#909090" stroke-width="0.55" />
<rect x="162.99" y="176.16" width="4.45" height="109.04" fill="#000" />
<line x1="165.21" y1="176.16" x2="165.21" y2="175.37" stroke="#909090" stroke-width="0.55" />
<line x1="164.31" y1="175.37" x2="166.11" y2="175.37" stroke="#909090" stroke-width="0.55" />
<line x1="40.00" y1="232.50" x2="163.00" y2="232.50" stroke="#808080" stroke-width="0.5" stroke-dasharray="0.9,0.9"/>
<text x="48.40" y="300.10" font-size="8.3" text-anchor="middle" textLength="4.2" lengthAdjust="spacingAndGlyphs" fill="#1a1a1a">0</text>
<text x="63.80" y="300.10" font-size="8.3" text-anchor="middle" textLength="4.2" lengthAdjust="spacingAndGlyphs" fill="#1a1a1a">4</text>
<text x="79.80" y="300.10" font-size="8.3" text-anchor="middle" textLength="4.2" lengthAdjust="spacingAndGlyphs" fill="#1a1a1a">8</text>
<text x="96.60" y="300.10" font-size="8.3" text-anchor="middle" textLength="8.4" lengthAdjust="spacingAndGlyphs" fill="#1a1a1a">12</text>
<text x="112.50" y="300.10" font-size="8.3" text-anchor="middle" textLength="8.4" lengthAdjust="spacingAndGlyphs" fill="#1a1a1a">16</text>
<text x="128.20" y="300.10" font-size="8.3" text-anchor="middle" textLength="8.4" lengthAdjust="spacingAndGlyphs" fill="#1a1a1a">24</text>
<text x="144.10" y="300.10" font-size="8.3" text-anchor="middle" textLength="8.4" lengthAdjust="spacingAndGlyphs" fill="#1a1a1a">48</text>
<text x="160.30" y="300.10" font-size="8.3" text-anchor="middle" textLength="8.4" lengthAdjust="spacingAndGlyphs" fill="#1a1a1a">72</text>
<text x="60.70" y="310.80" font-size="9.5" textLength="87.6" lengthAdjust="spacingAndGlyphs" fill="#1a1a1a">Differentiation, hours</text>
<text transform="translate(13.60,272.40) rotate(-90)" font-size="9.5" textLength="78.6" lengthAdjust="spacingAndGlyphs" fill="#1a1a1a">Relative mRNA/18S</text>
<line x1="229.40" y1="177.60" x2="229.40" y2="283.90" stroke="#8c8c8c" stroke-width="0.7" />
<line x1="229.40" y1="283.90" x2="325.60" y2="283.90" stroke="#8c8c8c" stroke-width="0.7" />
<line x1="229.40" y1="283.90" x2="231.80" y2="283.90" stroke="#8c8c8c" stroke-width="0.5" />
<line x1="229.40" y1="270.62" x2="231.80" y2="270.62" stroke="#8c8c8c" stroke-width="0.5" />
<line x1="229.40" y1="257.35" x2="231.80" y2="257.35" stroke="#8c8c8c" stroke-width="0.5" />
<line x1="229.40" y1="244.07" x2="231.80" y2="244.07" stroke="#8c8c8c" stroke-width="0.5" />
<line x1="229.40" y1="230.80" x2="231.80" y2="230.80" stroke="#8c8c8c" stroke-width="0.5" />
<line x1="229.40" y1="217.52" x2="231.80" y2="217.52" stroke="#8c8c8c" stroke-width="0.5" />
<line x1="229.40" y1="204.25" x2="231.80" y2="204.25" stroke="#8c8c8c" stroke-width="0.5" />
<line x1="229.40" y1="190.97" x2="231.80" y2="190.97" stroke="#8c8c8c" stroke-width="0.5" />
<line x1="229.40" y1="177.70" x2="231.80" y2="177.70" stroke="#8c8c8c" stroke-width="0.5" />
<line x1="229.40" y1="283.90" x2="229.40" y2="281.70" stroke="#8c8c8c" stroke-width="0.5" />
<line x1="239.00" y1="283.90" x2="239.00" y2="281.70" stroke="#8c8c8c" stroke-width="0.5" />
<line x1="248.60" y1="283.90" x2="248.60" y2="281.70" stroke="#8c8c8c" stroke-width="0.5" />
<line x1="258.20" y1="283.90" x2="258.20" y2="281.70" stroke="#8c8c8c" stroke-width="0.5" />
<line x1="267.80" y1="283.90" x2="267.80" y2="281.70" stroke="#8c8c8c" stroke-width="0.5" />
<line x1="277.40" y1="283.90" x2="277.40" y2="281.70" stroke="#8c8c8c" stroke-width="0.5" />
<line x1="287.00" y1="283.90" x2="287.00" y2="281.70" stroke="#8c8c8c" stroke-width="0.5" />
<line x1="296.60" y1="283.90" x2="296.60" y2="281.70" stroke="#8c8c8c" stroke-width="0.5" />
<line x1="306.20" y1="283.90" x2="306.20" y2="281.70" stroke="#8c8c8c" stroke-width="0.5" />
<line x1="315.80" y1="283.90" x2="315.80" y2="281.70" stroke="#8c8c8c" stroke-width="0.5" />
<line x1="325.40" y1="283.90" x2="325.40" y2="281.70" stroke="#8c8c8c" stroke-width="0.5" />
<text x="220.70" y="287.90" font-size="8.3" text-anchor="end" textLength="4.3" lengthAdjust="spacingAndGlyphs" fill="#1a1a1a">0</text>
<text x="220.70" y="274.62" font-size="8.3" text-anchor="end" textLength="10.6" lengthAdjust="spacingAndGlyphs" fill="#1a1a1a">2.5</text>
<text x="220.70" y="261.35" font-size="8.3" text-anchor="end" textLength="4.3" lengthAdjust="spacingAndGlyphs" fill="#1a1a1a">5</text>
<text x="220.70" y="248.07" font-size="8.3" text-anchor="end" textLength="10.6" lengthAdjust="spacingAndGlyphs" fill="#1a1a1a">7.5</text>
<text x="220.70" y="234.80" font-size="8.3" text-anchor="end" textLength="8.7" lengthAdjust="spacingAndGlyphs" fill="#1a1a1a">10</text>
<text x="220.70" y="221.52" font-size="8.3" text-anchor="end" textLength="15.0" lengthAdjust="spacingAndGlyphs" fill="#1a1a1a">12.5</text>
<text x="220.70" y="208.25" font-size="8.3" text-anchor="end" textLength="8.7" lengthAdjust="spacingAndGlyphs" fill="#1a1a1a">15</text>
<text x="220.70" y="194.97" font-size="8.3" text-anchor="end" textLength="15.0" lengthAdjust="spacingAndGlyphs" fill="#1a1a1a">17.5</text>
<text x="220.70" y="181.70" font-size="8.3" text-anchor="end" textLength="8.7" lengthAdjust="spacingAndGlyphs" fill="#1a1a1a">20</text>
<text x="229.40" y="299.20" font-size="8.3" text-anchor="middle" textLength="3.9" lengthAdjust="spacingAndGlyphs" fill="#1a1a1a">0</text>
<text x="248.60" y="299.20" font-size="8.3" text-anchor="middle" textLength="11.8" lengthAdjust="spacingAndGlyphs" fill="#1a1a1a">100</text>
<text x="267.80" y="299.20" font-size="8.3" text-anchor="middle" textLength="11.8" lengthAdjust="spacingAndGlyphs" fill="#1a1a1a">200</text>
<text x="287.00" y="299.20" font-size="8.3" text-anchor="middle" textLength="11.8" lengthAdjust="spacingAndGlyphs" fill="#1a1a1a">300</text>
<text x="306.20" y="299.20" font-size="8.3" text-anchor="middle" textLength="11.8" lengthAdjust="spacingAndGlyphs" fill="#1a1a1a">400</text>
<text x="325.40" y="299.20" font-size="8.3" text-anchor="middle" textLength="11.8" lengthAdjust="spacingAndGlyphs" fill="#1a1a1a">500</text>
<line x1="230.00" y1="253.00" x2="320.60" y2="200.00" stroke="#777" stroke-width="0.7" />
<circle cx="257.25" cy="184.40" r="2.35" fill="#000"/>
<circle cx="264.75" cy="211.90" r="2.35" fill="#000"/>
<circle cx="262.50" cy="213.10" r="2.35" fill="#000"/>
<circle cx="232.75" cy="223.40" r="2.35" fill="#000"/>
<circle cx="236.00" cy="224.90" r="2.35" fill="#000"/>
<circle cx="241.60" cy="221.75" r="2.35" fill="#000"/>
<circle cx="250.00" cy="222.10" r="2.35" fill="#000"/>
<circle cx="255.40" cy="224.00" r="2.35" fill="#000"/>
<circle cx="256.90" cy="226.50" r="2.35" fill="#000"/>
<circle cx="244.00" cy="230.60" r="2.35" fill="#000"/>
<circle cx="273.40" cy="225.00" r="2.35" fill="#000"/>
<circle cx="269.60" cy="233.40" r="2.35" fill="#000"/>
<circle cx="247.50" cy="240.90" r="2.35" fill="#000"/>
<circle cx="234.75" cy="240.90" r="2.35" fill="#000"/>
<circle cx="237.50" cy="242.75" r="2.35" fill="#000"/>
<circle cx="239.75" cy="245.25" r="2.35" fill="#000"/>
<circle cx="241.10" cy="247.00" r="2.35" fill="#000"/>
<circle cx="232.25" cy="246.00" r="2.35" fill="#000"/>
<circle cx="259.00" cy="244.70" r="2.35" fill="#000"/>
<circle cx="249.10" cy="249.70" r="2.35" fill="#000"/>
<circle cx="256.90" cy="250.00" r="2.35" fill="#000"/>
<circle cx="237.50" cy="250.50" r="2.35" fill="#000"/>
<circle cx="235.60" cy="252.00" r="2.35" fill="#000"/>
<circle cx="239.90" cy="252.40" r="2.35" fill="#000"/>
<circle cx="254.00" cy="253.60" r="2.35" fill="#000"/>
<circle cx="234.00" cy="255.60" r="2.35" fill="#000"/>
<circle cx="233.10" cy="257.75" r="2.35" fill="#000"/>
<circle cx="237.90" cy="257.75" r="2.35" fill="#000"/>
<circle cx="233.10" cy="260.60" r="2.35" fill="#000"/>
<circle cx="245.60" cy="261.25" r="2.35" fill="#000"/>
<circle cx="268.10" cy="259.40" r="2.35" fill="#000"/>
<circle cx="261.25" cy="263.10" r="2.35" fill="#000"/>
<circle cx="236.90" cy="265.00" r="2.35" fill="#000"/>
<circle cx="234.75" cy="266.90" r="2.35" fill="#000"/>
<circle cx="244.75" cy="266.25" r="2.35" fill="#000"/>
<circle cx="229.10" cy="275.60" r="2.35" fill="#000"/>
<circle cx="320.60" cy="206.60" r="2.35" fill="#000"/>
<text x="224.8" y="310.9" font-size="9.5" textLength="107.0" lengthAdjust="spacingAndGlyphs" fill="#1a1a1a"><tspan font-style="italic">CHRDL1</tspan>, relative mRNA/18S</text>
<text transform="translate(202.2,282.6) rotate(-90)" font-size="9.5" textLength="107.0" lengthAdjust="spacingAndGlyphs" fill="#1a1a1a"><tspan font-style="italic">PPARγ</tspan>, relative mRNA/18S</text>
<line x1="397.40" y1="177.60" x2="397.40" y2="286.20" stroke="#8c8c8c" stroke-width="0.7" />
<line x1="397.40" y1="286.20" x2="500.80" y2="286.20" stroke="#8c8c8c" stroke-width="0.7" />
<line x1="397.40" y1="286.20" x2="399.80" y2="286.20" stroke="#8c8c8c" stroke-width="0.5" />
<line x1="397.40" y1="272.65" x2="399.80" y2="272.65" stroke="#8c8c8c" stroke-width="0.5" />
<line x1="397.40" y1="259.10" x2="399.80" y2="259.10" stroke="#8c8c8c" stroke-width="0.5" />
<line x1="397.40" y1="245.55" x2="399.80" y2="245.55" stroke="#8c8c8c" stroke-width="0.5" />
<line x1="397.40" y1="232.00" x2="399.80" y2="232.00" stroke="#8c8c8c" stroke-width="0.5" />
<line x1="397.40" y1="218.45" x2="399.80" y2="218.45" stroke="#8c8c8c" stroke-width="0.5" />
<line x1="397.40" y1="204.90" x2="399.80" y2="204.90" stroke="#8c8c8c" stroke-width="0.5" />
<line x1="397.40" y1="191.35" x2="399.80" y2="191.35" stroke="#8c8c8c" stroke-width="0.5" />
<line x1="397.40" y1="177.80" x2="399.80" y2="177.80" stroke="#8c8c8c" stroke-width="0.5" />
<line x1="397.40" y1="286.20" x2="397.40" y2="283.60" stroke="#8c8c8c" stroke-width="0.5" />
<line x1="407.72" y1="286.20" x2="407.72" y2="283.60" stroke="#8c8c8c" stroke-width="0.5" />
<line x1="418.04" y1="286.20" x2="418.04" y2="283.60" stroke="#8c8c8c" stroke-width="0.5" />
<line x1="428.36" y1="286.20" x2="428.36" y2="283.60" stroke="#8c8c8c" stroke-width="0.5" />
<line x1="438.68" y1="286.20" x2="438.68" y2="283.60" stroke="#8c8c8c" stroke-width="0.5" />
<line x1="449.00" y1="286.20" x2="449.00" y2="283.60" stroke="#8c8c8c" stroke-width="0.5" />
<line x1="459.32" y1="286.20" x2="459.32" y2="283.60" stroke="#8c8c8c" stroke-width="0.5" />
<line x1="469.64" y1="286.20" x2="469.64" y2="283.60" stroke="#8c8c8c" stroke-width="0.5" />
<line x1="479.96" y1="286.20" x2="479.96" y2="283.60" stroke="#8c8c8c" stroke-width="0.5" />
<line x1="490.28" y1="286.20" x2="490.28" y2="283.60" stroke="#8c8c8c" stroke-width="0.5" />
<line x1="500.60" y1="286.20" x2="500.60" y2="283.60" stroke="#8c8c8c" stroke-width="0.5" />
<text x="389.20" y="290.20" font-size="8.3" text-anchor="end" textLength="4.3" lengthAdjust="spacingAndGlyphs" fill="#1a1a1a">0</text>
<text x="389.20" y="263.10" font-size="8.3" text-anchor="end" textLength="4.3" lengthAdjust="spacingAndGlyphs" fill="#1a1a1a">5</text>
<text x="389.20" y="236.00" font-size="8.3" text-anchor="end" textLength="8.6" lengthAdjust="spacingAndGlyphs" fill="#1a1a1a">10</text>
<text x="389.20" y="208.90" font-size="8.3" text-anchor="end" textLength="8.6" lengthAdjust="spacingAndGlyphs" fill="#1a1a1a">15</text>
<text x="389.20" y="181.80" font-size="8.3" text-anchor="end" textLength="8.6" lengthAdjust="spacingAndGlyphs" fill="#1a1a1a">20</text>
<text x="397.40" y="301.00" font-size="8.3" text-anchor="middle" textLength="10.4" lengthAdjust="spacingAndGlyphs" fill="#1a1a1a">0.0</text>
<text x="418.04" y="301.00" font-size="8.3" text-anchor="middle" textLength="10.4" lengthAdjust="spacingAndGlyphs" fill="#1a1a1a">0.2</text>
<text x="438.68" y="301.00" font-size="8.3" text-anchor="middle" textLength="10.4" lengthAdjust="spacingAndGlyphs" fill="#1a1a1a">0.4</text>
<text x="459.32" y="301.00" font-size="8.3" text-anchor="middle" textLength="10.4" lengthAdjust="spacingAndGlyphs" fill="#1a1a1a">0.6</text>
<text x="479.96" y="301.00" font-size="8.3" text-anchor="middle" textLength="10.4" lengthAdjust="spacingAndGlyphs" fill="#1a1a1a">0.8</text>
<text x="500.60" y="301.00" font-size="8.3" text-anchor="middle" textLength="10.4" lengthAdjust="spacingAndGlyphs" fill="#1a1a1a">1.0</text>
<line x1="403.00" y1="230.00" x2="495.25" y2="269.40" stroke="#777" stroke-width="0.7" />
<circle cx="407.00" cy="184.00" r="2.35" fill="#000"/>
<circle cx="413.60" cy="207.25" r="2.35" fill="#000"/>
<circle cx="405.90" cy="212.50" r="2.35" fill="#000"/>
<circle cx="402.75" cy="213.50" r="2.35" fill="#000"/>
<circle cx="410.25" cy="225.90" r="2.35" fill="#000"/>
<circle cx="416.75" cy="222.75" r="2.35" fill="#000"/>
<circle cx="416.40" cy="227.10" r="2.35" fill="#000"/>
<circle cx="425.25" cy="222.10" r="2.35" fill="#000"/>
<circle cx="417.60" cy="231.90" r="2.35" fill="#000"/>
<circle cx="412.10" cy="234.00" r="2.35" fill="#000"/>
<circle cx="442.10" cy="224.60" r="2.35" fill="#000"/>
<circle cx="444.25" cy="225.60" r="2.35" fill="#000"/>
<circle cx="453.60" cy="224.00" r="2.35" fill="#000"/>
<circle cx="404.00" cy="242.75" r="2.35" fill="#000"/>
<circle cx="430.10" cy="241.75" r="2.35" fill="#000"/>
<circle cx="429.25" cy="246.75" r="2.35" fill="#000"/>
<circle cx="434.25" cy="248.40" r="2.35" fill="#000"/>
<circle cx="438.50" cy="250.80" r="2.35" fill="#000"/>
<circle cx="444.90" cy="243.75" r="2.35" fill="#000"/>
<circle cx="444.90" cy="247.10" r="2.35" fill="#000"/>
<circle cx="432.75" cy="253.80" r="2.35" fill="#000"/>
<circle cx="446.75" cy="253.90" r="2.35" fill="#000"/>
<circle cx="458.00" cy="251.10" r="2.35" fill="#000"/>
<circle cx="452.40" cy="255.00" r="2.35" fill="#000"/>
<circle cx="452.75" cy="257.00" r="2.35" fill="#000"/>
<circle cx="423.00" cy="261.00" r="2.35" fill="#000"/>
<circle cx="427.00" cy="259.40" r="2.35" fill="#000"/>
<circle cx="429.25" cy="262.50" r="2.35" fill="#000"/>
<circle cx="428.00" cy="267.50" r="2.35" fill="#000"/>
<circle cx="438.60" cy="266.60" r="2.35" fill="#000"/>
<circle cx="448.25" cy="266.25" r="2.35" fill="#000"/>
<circle cx="405.75" cy="268.50" r="2.35" fill="#000"/>
<circle cx="433.60" cy="277.25" r="2.35" fill="#000"/>
<circle cx="494.75" cy="246.10" r="2.35" fill="#000"/>
<circle cx="465.00" cy="251.40" r="2.35" fill="#000"/>
<circle cx="460.40" cy="259.40" r="2.35" fill="#000"/>
<circle cx="461.00" cy="264.75" r="2.35" fill="#000"/>
<circle cx="479.00" cy="262.90" r="2.35" fill="#000"/>
<text x="397.3" y="310.9" font-size="9.5" textLength="106.4" lengthAdjust="spacingAndGlyphs" fill="#1a1a1a"><tspan font-style="italic">GREM1</tspan>, relative mRNA/18S</text>
<text transform="translate(376.8,286.6) rotate(-90)" font-size="9.5" textLength="107.2" lengthAdjust="spacingAndGlyphs" fill="#1a1a1a"><tspan font-style="italic">PPARγ</tspan>, relative mRNA/18S</text>
</g>
</svg>
</body>
</html>
